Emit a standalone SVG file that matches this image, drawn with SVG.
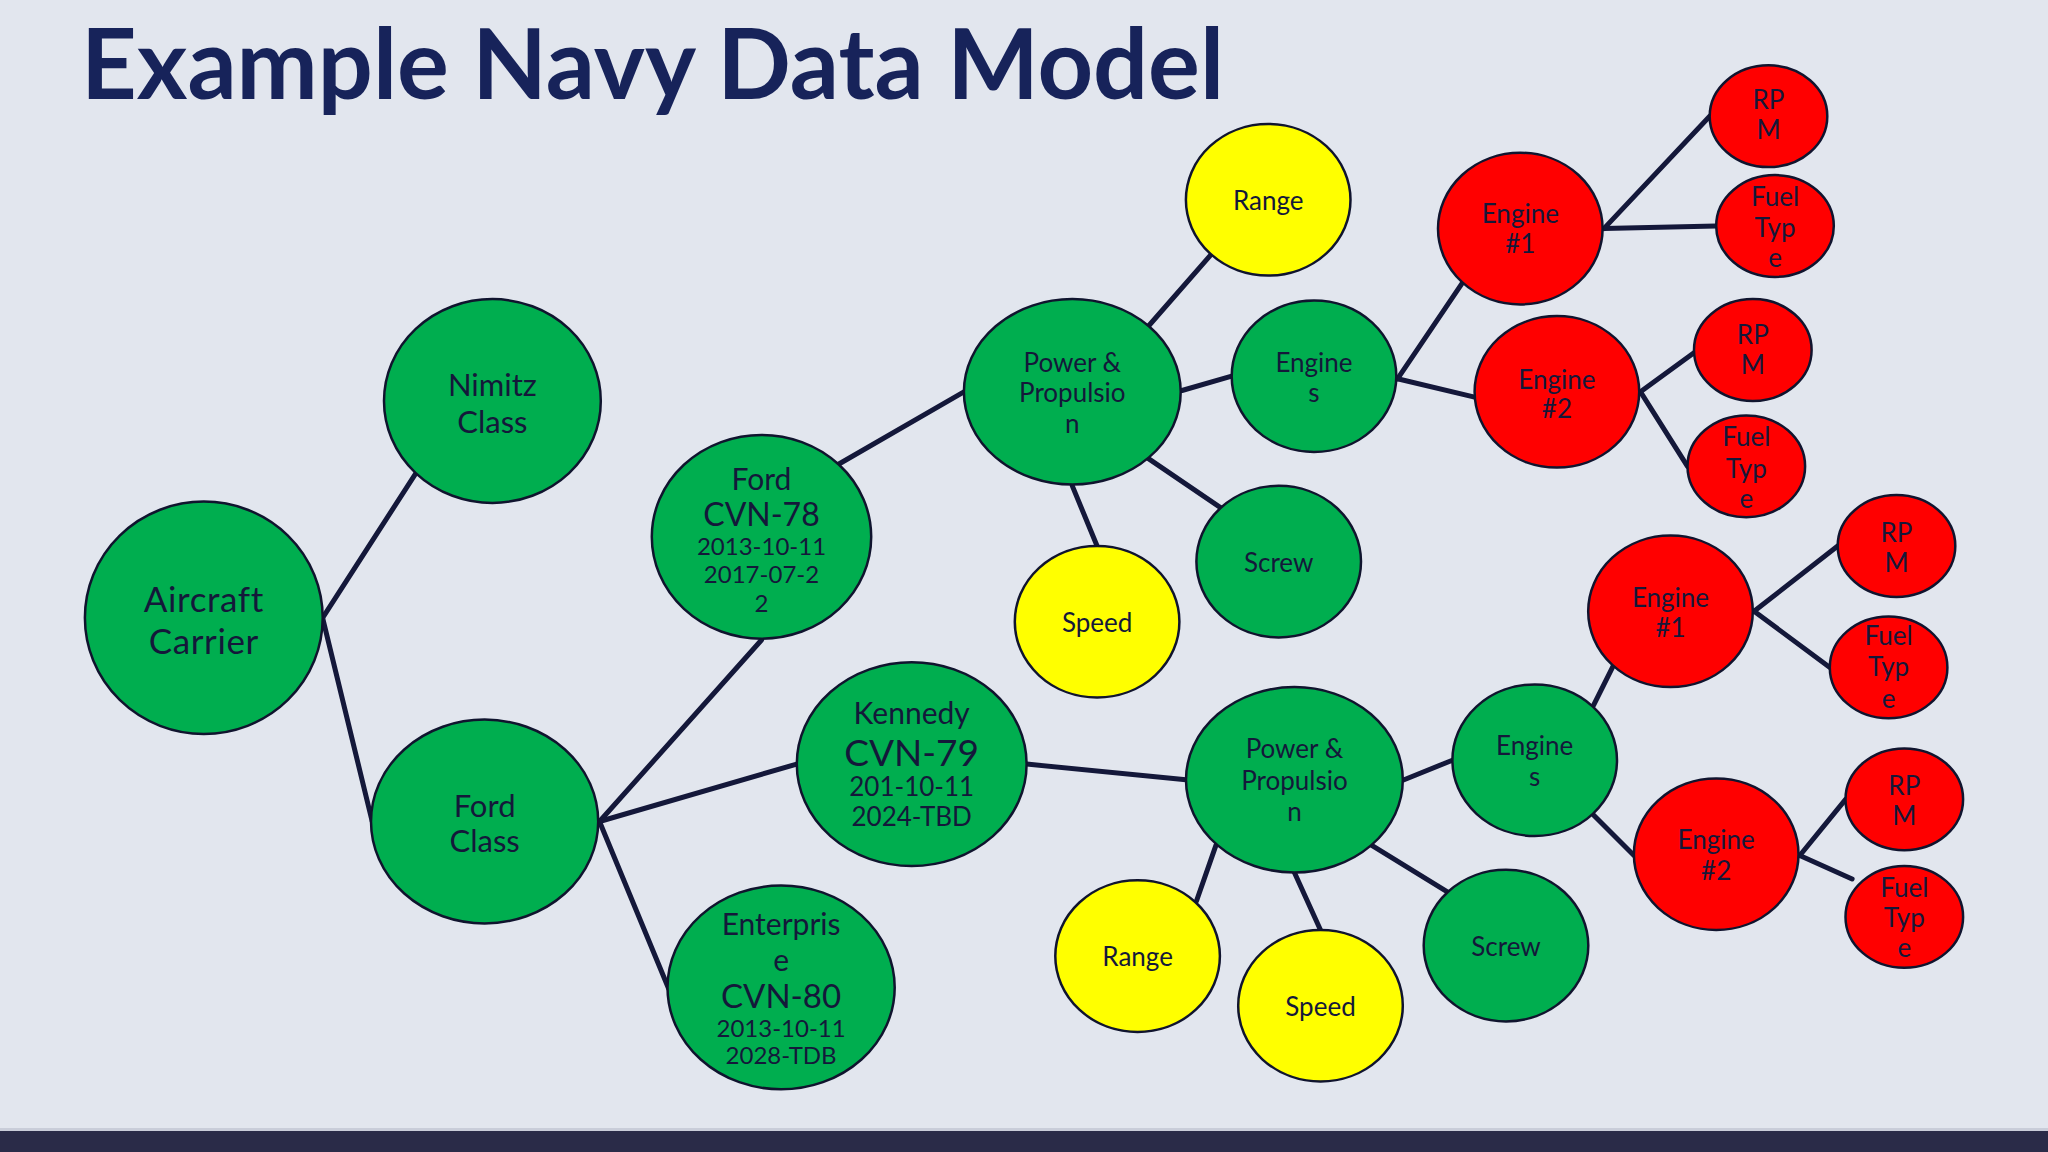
<svg xmlns="http://www.w3.org/2000/svg" width="2048" height="1152" viewBox="0 0 2048 1152">
<style>
.bg{fill:#e2e6ee}
.title{font-family:Lato,"Liberation Sans",sans-serif;font-weight:700;font-size:97px;fill:#17235a}
.n ellipse{stroke:#10142e;stroke-width:2.5}
.g ellipse{fill:#00ae4f}
.y ellipse{fill:#ffff00}
.r ellipse{fill:#ff0000}
.n text{font-family:Lato,"Liberation Sans",sans-serif;fill:#14183a;text-anchor:middle;dominant-baseline:central}
.conn line{stroke:#14183a;stroke-width:5;stroke-linecap:round}
.f35{font-size:35px;letter-spacing:0.6px}.f31{font-size:31px}.f30{font-size:30px}.f26{font-size:26px}.f24{font-size:24px}.f32{font-size:32px}.f37{font-size:37px}.f33{font-size:33px}
</style>
<rect class="bg" x="0" y="0" width="2048" height="1152"/>
<rect x="0" y="1128" width="2048" height="3" fill="#c9cdd9"/>
<rect x="0" y="1131" width="2048" height="21" fill="#2a2b48"/>
<text class="title" x="81" y="99" textLength="1143" lengthAdjust="spacingAndGlyphs">Example Navy Data Model</text>

<g id="connectors" class="conn">
<line x1="322.6" y1="617.8" x2="415.3" y2="474.1"/>
<line x1="322.6" y1="617.8" x2="372.2" y2="821.5"/>
<line x1="599.5" y1="821.5" x2="761.5" y2="640"/>
<line x1="599.5" y1="821.5" x2="796.7" y2="764.1"/>
<line x1="599.5" y1="821.5" x2="668.7" y2="988.7"/>
<line x1="837.2" y1="465" x2="963.9" y2="391.8"/>
<line x1="1148.1" y1="326.5" x2="1212.1" y2="253.4"/>
<line x1="1182" y1="390.5" x2="1231.7" y2="376.2"/>
<line x1="1148.1" y1="458.4" x2="1221.2" y2="508.1"/>
<line x1="1072.3" y1="485.9" x2="1097.1" y2="546"/>
<line x1="1397.5" y1="378.8" x2="1462.9" y2="282.1"/>
<line x1="1397.5" y1="378.8" x2="1474.6" y2="397.1"/>
<line x1="1603.9" y1="228.6" x2="1709.7" y2="116.2"/>
<line x1="1603.9" y1="228.6" x2="1716.2" y2="226"/>
<line x1="1640.5" y1="391.8" x2="1694" y2="352.7"/>
<line x1="1640.5" y1="391.8" x2="1687.5" y2="466.3"/>
<line x1="1026.6" y1="764.1" x2="1185.9" y2="779.8"/>
<line x1="1404.1" y1="779.8" x2="1452.4" y2="760.2"/>
<line x1="1371.4" y1="845.1" x2="1449.8" y2="893.4"/>
<line x1="1216" y1="845.1" x2="1196.4" y2="901.2"/>
<line x1="1294.4" y1="872.5" x2="1320.5" y2="930"/>
<line x1="1593.5" y1="705.3" x2="1613.1" y2="666.1"/>
<line x1="1593.5" y1="815" x2="1634" y2="855.5"/>
<line x1="1754.1" y1="611.3" x2="1837.7" y2="546"/>
<line x1="1754.1" y1="611.3" x2="1829.9" y2="667.4"/>
<line x1="1799.8" y1="855.5" x2="1845.6" y2="799.3"/>
<line x1="1799.8" y1="855.5" x2="1852.1" y2="879"/>
</g>

<g id="aircraft-carrier" class="n g"><ellipse cx="203.8" cy="617.8" rx="118.9" ry="116.2"/><text class="f35" x="203.8" y="598.2">Aircraft</text><text class="f35" x="203.8" y="640">Carrier</text></g>
<g id="nimitz-class" class="n g"><ellipse cx="492.4" cy="401" rx="108.4" ry="101.9"/><text class="f31" x="492.4" y="384">Nimitz</text><text class="f31" x="492.4" y="420.6">Class</text></g>
<g id="ford-class" class="n g"><ellipse cx="484.6" cy="821.5" rx="113.6" ry="101.9"/><text class="f31" x="484.6" y="804.6">Ford</text><text class="f31" x="484.6" y="839.8">Class</text></g>
<g id="ford-cvn78" class="n g"><ellipse cx="761.5" cy="536.8" rx="109.7" ry="101.9"/><text class="f30" x="761.5" y="478">Ford</text><text class="f32" x="761.5" y="513.3">CVN-78</text><text class="f24" x="761.5" y="545">2013-10-11</text><text class="f24" x="761.5" y="573.4">2017-07-2</text><text class="f24" x="761.5" y="602.1">2</text></g>
<g id="kennedy-cvn79" class="n g"><ellipse cx="911.7" cy="764.1" rx="114.9" ry="101.9"/><text class="f30" x="911.7" y="711.8">Kennedy</text><text class="f37" x="911.7" y="751">CVN-79</text><text class="f26" x="911.7" y="786.3">201-10-11</text><text class="f26" x="911.7" y="816.3">2024-TBD</text></g>
<g id="enterprise-cvn80" class="n g"><ellipse cx="781.1" cy="987.4" rx="113.6" ry="101.9"/><text class="f30" x="781.1" y="923.4">Enterpris</text><text class="f30" x="781.1" y="958.7">e</text><text class="f33" x="781.1" y="995.3">CVN-80</text><text class="f24" x="781.1" y="1027.9">2013-10-11</text><text class="f24" x="781.1" y="1054">2028-TDB</text></g>

<g id="power-propulsion-1" class="n g"><ellipse cx="1072.3" cy="391.8" rx="108.4" ry="92.7"/><text class="f26" x="1072.3" y="361.8">Power &amp;</text><text class="f26" x="1072.3" y="391.8">Propulsio</text><text class="f26" x="1072.3" y="423.2">n</text></g>
<g id="range-1" class="n y"><ellipse cx="1268.2" cy="199.8" rx="82.3" ry="75.8"/><text class="f26" x="1268.2" y="199.8">Range</text></g>
<g id="engines-1" class="n g"><ellipse cx="1314" cy="376.2" rx="82.3" ry="75.8"/><text class="f26" x="1314" y="361.8">Engine</text><text class="f26" x="1314" y="391.8">s</text></g>
<g id="screw-1" class="n g"><ellipse cx="1278.7" cy="561.6" rx="82.3" ry="75.8"/><text class="f26" x="1278.7" y="561.6">Screw</text></g>
<g id="speed-1" class="n y"><ellipse cx="1097.1" cy="621.7" rx="82.3" ry="75.8"/><text class="f26" x="1097.1" y="621.7">Speed</text></g>
<g id="engine1-1" class="n r"><ellipse cx="1520.3" cy="228.6" rx="82.3" ry="75.8"/><text class="f26" x="1520.3" y="212.9">Engine</text><text class="f26" x="1520.3" y="242.9">#1</text></g>
<g id="engine2-1" class="n r"><ellipse cx="1556.9" cy="391.8" rx="82.3" ry="75.8"/><text class="f26" x="1556.9" y="378.8">Engine</text><text class="f26" x="1556.9" y="407.5">#2</text></g>
<g id="rpm-1a" class="n r"><ellipse cx="1768.5" cy="116.2" rx="58.8" ry="50.9"/><text class="f26" x="1768.5" y="99.3">RP</text><text class="f26" x="1768.5" y="129.3">M</text></g>
<g id="fuel-1a" class="n r"><ellipse cx="1775" cy="226" rx="58.8" ry="50.9"/><text class="f26" x="1775" y="195.9">Fuel</text><text class="f26" x="1775" y="227.3">Typ</text><text class="f26" x="1775" y="257.3">e</text></g>
<g id="rpm-1b" class="n r"><ellipse cx="1752.8" cy="350" rx="58.8" ry="50.9"/><text class="f26" x="1752.8" y="334.4">RP</text><text class="f26" x="1752.8" y="364.4">M</text></g>
<g id="fuel-1b" class="n r"><ellipse cx="1746.3" cy="466.3" rx="58.8" ry="50.9"/><text class="f26" x="1746.3" y="436.2">Fuel</text><text class="f26" x="1746.3" y="467.6">Typ</text><text class="f26" x="1746.3" y="497.6">e</text></g>

<g id="power-propulsion-2" class="n g"><ellipse cx="1294.4" cy="779.8" rx="108.4" ry="92.7"/><text class="f26" x="1294.4" y="748.4">Power &amp;</text><text class="f26" x="1294.4" y="779.8">Propulsio</text><text class="f26" x="1294.4" y="811.1">n</text></g>
<g id="engines-2" class="n g"><ellipse cx="1534.7" cy="760.2" rx="82.3" ry="75.8"/><text class="f26" x="1534.7" y="744.5">Engine</text><text class="f26" x="1534.7" y="775.8">s</text></g>
<g id="screw-2" class="n g"><ellipse cx="1506" cy="945.6" rx="82.3" ry="75.8"/><text class="f26" x="1506" y="945.6">Screw</text></g>
<g id="range-2" class="n y"><ellipse cx="1137.6" cy="956.1" rx="82.3" ry="75.8"/><text class="f26" x="1137.6" y="956.1">Range</text></g>
<g id="speed-2" class="n y"><ellipse cx="1320.5" cy="1005.7" rx="82.3" ry="75.8"/><text class="f26" x="1320.5" y="1005.7">Speed</text></g>
<g id="engine1-2" class="n r"><ellipse cx="1670.5" cy="611.3" rx="82.3" ry="75.8"/><text class="f26" x="1670.5" y="596.9">Engine</text><text class="f26" x="1670.5" y="626.9">#1</text></g>
<g id="engine2-2" class="n r"><ellipse cx="1716.2" cy="854.2" rx="82.3" ry="75.8"/><text class="f26" x="1716.2" y="838.5">Engine</text><text class="f26" x="1716.2" y="869.9">#2</text></g>
<g id="rpm-2a" class="n r"><ellipse cx="1896.5" cy="546" rx="58.8" ry="50.9"/><text class="f26" x="1896.5" y="531.6">RP</text><text class="f26" x="1896.5" y="561.6">M</text></g>
<g id="fuel-2a" class="n r"><ellipse cx="1888.6" cy="667.4" rx="58.8" ry="50.9"/><text class="f26" x="1888.6" y="634.8">Fuel</text><text class="f26" x="1888.6" y="666.1">Typ</text><text class="f26" x="1888.6" y="697.5">e</text></g>
<g id="rpm-2b" class="n r"><ellipse cx="1904.3" cy="799.3" rx="58.8" ry="50.9"/><text class="f26" x="1904.3" y="785">RP</text><text class="f26" x="1904.3" y="815">M</text></g>
<g id="fuel-2b" class="n r"><ellipse cx="1904.3" cy="916.9" rx="58.8" ry="50.9"/><text class="f26" x="1904.3" y="886.9">Fuel</text><text class="f26" x="1904.3" y="916.9">Typ</text><text class="f26" x="1904.3" y="946.9">e</text></g>
</svg>
